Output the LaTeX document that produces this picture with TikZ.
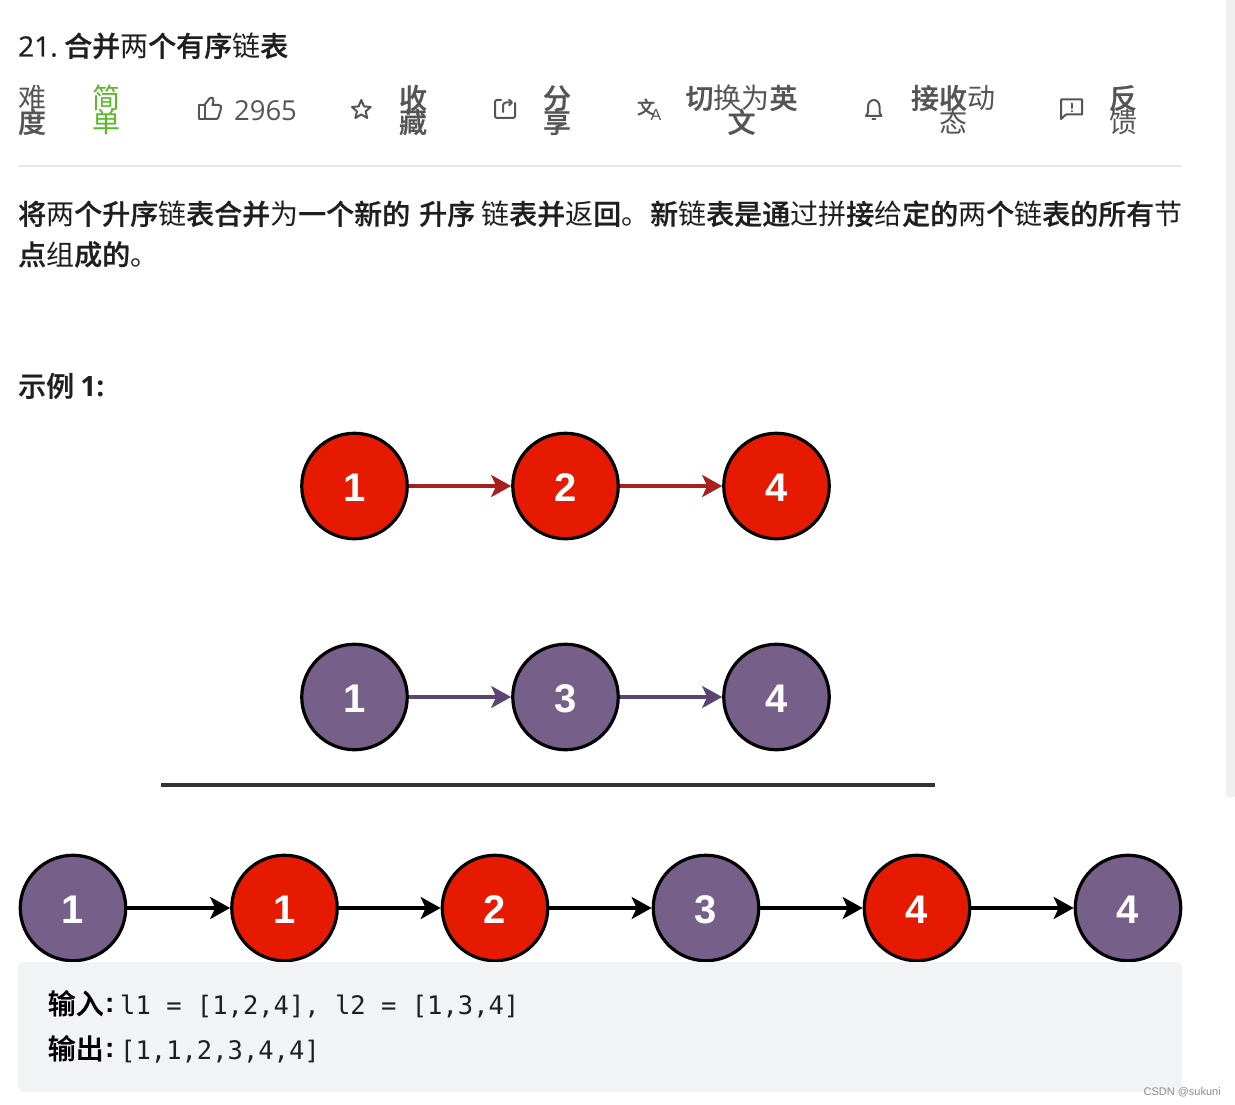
\documentclass[tikz,border=0pt]{standalone}
\usepackage{fontspec}
\usetikzlibrary{arrows.meta}
\setmainfont{Noto Sans CJK SC}[BoldFont={Noto Sans CJK SC Medium},BoldFeatures={FakeBold=0.7}]
\newfontfamily\latfont{Open Sans}
\newfontfamily\latsemi{Open Sans}[FakeBold=0.7]
\newfontfamily\digfont{Liberation Sans}
\newfontfamily\codefont{DejaVu Sans Mono}
\newcommand{\bd}[1]{{\bfseries #1}}
\definecolor{nodered}{HTML}{E51A00}
\definecolor{nodepurple}{HTML}{76608A}
\definecolor{edgered}{HTML}{A81F1F}
\definecolor{edgepurple}{HTML}{5A4670}
\definecolor{inkdark}{HTML}{1F1F1F}
\definecolor{inkgrey}{HTML}{555555}
\definecolor{inkgreen}{HTML}{5CB82A}
\definecolor{rulegrey}{HTML}{E8E8E8}
\definecolor{codebg}{HTML}{F2F3F5}
\definecolor{barbg}{HTML}{F0F0F0}
\tikzset{
  x=1pt,y=-1pt,
  listnode/.style={circle,draw=black,line width=3.2pt,minimum size=105.5pt,inner sep=0pt,text=white,font=\digfont\fontsize{40}{40}\selectfont\bfseries},
  rednode/.style={listnode,fill=nodered},
  purplenode/.style={listnode,fill=nodepurple},
  link/.style={line width=3.05pt,-{Stealth[length=20pt,width=22pt,inset=5pt]}},
  redlink/.style={link,draw=edgered},
  purplelink/.style={link,draw=edgepurple},
  blacklink/.style={link,draw=black},
  txt/.style={anchor=base west,inner sep=0pt,text=inkdark,font=\fontsize{28}{28}\selectfont},
  meta/.style={anchor=base,inner sep=0pt,text=inkgrey,align=center,font=\fontsize{28}{24}\selectfont},
  icon/.style={draw=inkgrey,line width=2pt,line join=round,line cap=round},
}
\newcommand{\dg}[1]{\raisebox{-15.4pt}[0pt][0pt]{#1}}
\begin{document}
\begin{tikzpicture}
\useasboundingbox (0,0) rectangle (1235,1105);
\fill[white] (0,0) rectangle (1235,1105);
\fill[barbg] (1226,0) rectangle (1235,797);

% title
\node[txt] (title) at (18,56.5) {{\latsemi 21.}};
\node[txt] (titlecn) at (64,56.5) {\bd{合并}两\bd{个有序}链\bd{表}};

% meta row
\node[meta] (m1a) at (32,108.6) {难};
\node[meta] (m1b) at (32,132.6) {\bd{度}};
\node[meta,text=inkgreen] (m2a) at (106,108.6) {简};
\node[meta,text=inkgreen] (m2b) at (106,132.6) {单};
\node[anchor=base,inner sep=0pt,text=inkgrey,font=\latfont\fontsize{27.5}{28}\selectfont] (likes) at (265.5,120.5) {2965};
\node[meta] (m3a) at (413,108.6) {\bd{收}};
\node[meta] (m3b) at (413,132.6) {\bd{藏}};
\node[meta] (m4a) at (557,108.6) {\bd{分}};
\node[meta] (m4b) at (557,132.6) {\bd{享}};
\node[meta] (m5a) at (741.5,108.6) {\bd{切}换为\bd{英}};
\node[meta] (m5b) at (741.5,132.6) {\bd{文}};
\node[meta] (m6a) at (953,108.6) {\bd{接收}动};
\node[meta] (m6b) at (953,132.6) {态};
\node[meta] (m7a) at (1123,108.6) {\bd{反}};
\node[meta] (m7b) at (1123,132.6) {馈};

% icons: thumb
\draw[icon] (198.5,105) -- (198.5,119) -- (204.5,119) -- (204.5,105) -- cycle;
\draw[icon] (204.5,105) -- (209.5,98.5) .. controls (212,96.5) and (214,98.5) .. (213.5,101) -- (212.5,105) -- (219,105) .. controls (221,105) and (221.5,107) .. (221,108.5) -- (218.5,117) .. controls (218,118.5) and (217,119) .. (216,119) -- (204.5,119);
% star
\draw[icon] (361.3,100) -- (364,106.4) -- (370.7,107) -- (365.6,111.4) -- (367.2,118) -- (361.3,114.5) -- (355.4,118) -- (357,111.4) -- (352,107) -- (358.6,106.4) -- cycle;
% share
\draw[icon] (501,100) -- (497,100) .. controls (495.5,100) and (495,101) .. (495,102) -- (495,116) .. controls (495,117) and (495.5,118) .. (497,118) -- (513,118) .. controls (514.5,118) and (515,117) .. (515,116) -- (515,103);
\draw[icon] (503,112) -- (503,105.5) .. controls (503,103.5) and (504.5,102.5) .. (506,102.5) -- (511,102.5);
\draw[icon] (509,99.5) -- (512,102.5) -- (509,105.5);
% translate
\node[inner sep=0pt,text=inkgrey,font=\bfseries\fontsize{18}{18}\selectfont] (trzh) at (646,107) {文};
\node[inner sep=0pt,text=inkgrey,font=\digfont\fontsize{16}{16}\selectfont] (tren) at (656,114.5) {A};
% bell
\draw[icon] (866,116) -- (881.5,116) -- (879.5,112.5) -- (879.5,106.5) .. controls (879.5,102.5) and (876.5,100) .. (873.8,100) .. controls (871,100) and (868,102.5) .. (868,106.5) -- (868,112.5) -- cycle;
\draw[icon] (872.3,119.5) -- (875.3,119.5);
% feedback
\draw[icon] (1061,99.5) -- (1082,99.5) -- (1082,114.5) -- (1066,114.5) -- (1061,119) -- cycle;
\draw[icon] (1071.5,103.5) -- (1071.5,108);
\draw[icon] (1071.5,111) -- (1071.5,111.3);

\draw[rulegrey,line width=2pt] (18,166) -- (1182,166);

% description
\node[txt] (p1a) at (18,224.5) {\bd{将}两\bd{个升序}链\bd{表合并}为\bd{一个新的}};
\node[txt] (p1b) at (419,224.5) {\bd{升序}};
\node[txt] (p1c) at (481,224.5) {链\bd{表并}返\bd{回}。};
\node[txt] (p1d) at (650,224.5) {\bd{新}链\bd{表是通}过拼\bd{接}给\bd{定的}两\bd{个}链\bd{表的所有}节};
\node[txt] (p2) at (18,265) {\bd{点}组\bd{成的}。};
\node[txt] (ex) at (18,396.5) {\bd{示例} {\latfont\bfseries 1:}};

% list 1
\node[rednode] (a1) at (354.5,486) {\dg{1}};
\node[rednode] (a2) at (565.5,486) {\dg{2}};
\node[rednode] (a3) at (776.5,486) {\dg{4}};
\draw[redlink] (a1) -- (a2);
\draw[redlink] (a2) -- (a3);

% list 2
\node[purplenode] (b1) at (354.5,697) {\dg{1}};
\node[purplenode] (b2) at (565.5,697) {\dg{3}};
\node[purplenode] (b3) at (776.5,697) {\dg{4}};
\draw[purplelink] (b1) -- (b2);
\draw[purplelink] (b2) -- (b3);

\coordinate (sepl) at (161,785);
\coordinate (sepr) at (935,785);
\draw[black!80,line width=3.2pt] (sepl) -- (sepr);

% merged list
\node[purplenode] (c1) at (73,908) {\dg{1}};
\node[rednode] (c2) at (284.5,908) {\dg{1}};
\node[rednode] (c3) at (495,908) {\dg{2}};
\node[purplenode] (c4) at (706,908) {\dg{3}};
\node[rednode] (c5) at (917,908) {\dg{4}};
\node[purplenode] (c6) at (1128,908) {\dg{4}};
\draw[blacklink] (c1) -- (c2);
\draw[blacklink] (c2) -- (c3);
\draw[blacklink] (c3) -- (c4);
\draw[blacklink] (c4) -- (c5);
\draw[blacklink] (c5) -- (c6);

% code block
\fill[codebg,rounded corners=6pt] (18,962) rectangle (1182,1092);
\node[txt,text=black] (in) at (47.5,1014) {\bd{输入}};
\node[txt,text=black] (incolon) at (105,1012) {{\digfont\bfseries :}};
\node[txt,text=inkdark,font=\codefont\fontsize{25.5}{25}\selectfont] (incode) at (120,1014) {l1 = [1,2,4], l2 = [1,3,4]};
\node[txt,text=black] (out) at (47.5,1059) {\bd{输出}};
\node[txt,text=black] (outcolon) at (105,1057) {{\digfont\bfseries :}};
\node[txt,text=inkdark,font=\codefont\fontsize{25.5}{25}\selectfont] (outcode) at (120,1059) {[1,1,2,3,4,4]};

\node[anchor=base east,inner sep=0pt,text=black!45,font=\digfont\fontsize{11}{12}\selectfont] (wm) at (1221,1095) {CSDN @sukuni};
\end{tikzpicture}
\end{document}
